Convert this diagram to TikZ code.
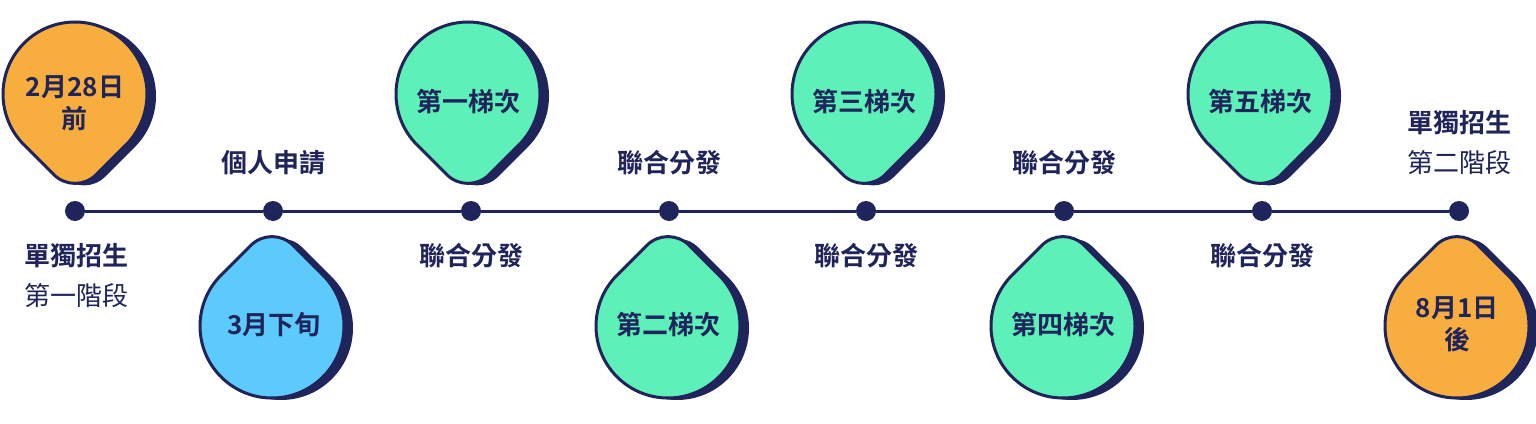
\documentclass[tikz,border=0pt]{standalone}
\usepackage{fontspec}
\newfontfamily\cjk{Noto Sans CJK TC}
\newfontfamily\cjkb{Noto Sans CJK TC Bold}
\definecolor{navy}{RGB}{31,36,90}
\definecolor{mint}{RGB}{94,240,185}
\definecolor{amber}{RGB}{248,174,62}
\definecolor{sky}{RGB}{92,202,250}
\newcommand{\droppath}{(-135:72pt) -- (-21.21pt,-80.61pt) arc[start angle=-135, end angle=-45, radius=30pt] -- (-45:72pt) arc[start angle=-45, end angle=225, radius=72pt] -- cycle}
\newcommand{\dropat}[4]{%
  \fill[navy, shift={(#1+9,#2-2)}, rotate=#3] \droppath;
  \draw[navy, line width=3pt, fill=#4, shift={(#1,#2)}, rotate=#3] \droppath;
}
\begin{document}
\begin{tikzpicture}[x=1pt,y=1pt,
  lbl/.style={font=\cjkb\fontsize{26}{30}\selectfont, text=navy, inner sep=0pt},
  sub/.style={font=\cjk\fontsize{26}{30}\selectfont, text=navy, inner sep=0pt},
  dot/.style={circle, fill=navy, minimum size=20pt, inner sep=0pt},
  dtxt/.style={font=\cjkb\fontsize{26}{30}\selectfont, text=navy, inner sep=0pt, align=center}]
\useasboundingbox (0,0) rectangle (1536,-423);
% timeline
\node[dot] (d1) at (75,-211) {};
\node[dot] (d2) at (273,-211) {};
\node[dot] (d3) at (471,-211) {};
\node[dot] (d4) at (669,-211) {};
\node[dot] (d5) at (866,-211) {};
\node[dot] (d6) at (1064,-211) {};
\node[dot] (d7) at (1262,-211) {};
\node[dot] (d8) at (1459,-211) {};
\draw[navy, line width=3pt] (d1) -- (d2) -- (d3) -- (d4) -- (d5) -- (d6) -- (d7) -- (d8);
% drops
\dropat{75}{-94}{0}{amber}
\dropat{468}{-94}{0}{mint}
\dropat{864}{-94}{0}{mint}
\dropat{1260}{-94}{0}{mint}
\dropat{272}{-326}{180}{sky}
\dropat{668}{-326}{180}{mint}
\dropat{1063}{-326}{180}{mint}
\dropat{1457}{-326}{180}{amber}
% drop texts
\node[dtxt] (t1) at (75,-103) {2月28日\\[2pt]前};
\node[dtxt] (t2) at (468,-102) {第一梯次};
\node[dtxt] (t3) at (864,-102) {第三梯次};
\node[dtxt] (t4) at (1260,-102) {第五梯次};
\node[dtxt] (t5) at (274,-325) {3月下旬};
\node[dtxt] (t6) at (668,-325) {第二梯次};
\node[dtxt] (t7) at (1063,-325) {第四梯次};
\node[dtxt] (t8) at (1457,-324) {8月1日\\[2pt]後};
% labels
\node[lbl] (l2) at (273,-163) {個人申請};
\node[lbl] (l4) at (669,-163) {聯合分發};
\node[lbl] (l6) at (1064,-163) {聯合分發};
\node[lbl] (l3) at (471,-256) {聯合分發};
\node[lbl] (l5) at (866,-256) {聯合分發};
\node[lbl] (l7) at (1262,-256) {聯合分發};
\node[lbl, anchor=west] (l1a) at (24,-256) {單獨招生};
\node[sub, anchor=west] (l1b) at (24,-296) {第一階段};
\node[lbl, anchor=east] (l8a) at (1512,-123) {單獨招生};
\node[sub, anchor=east] (l8b) at (1512,-163) {第二階段};
\end{tikzpicture}
\end{document}
